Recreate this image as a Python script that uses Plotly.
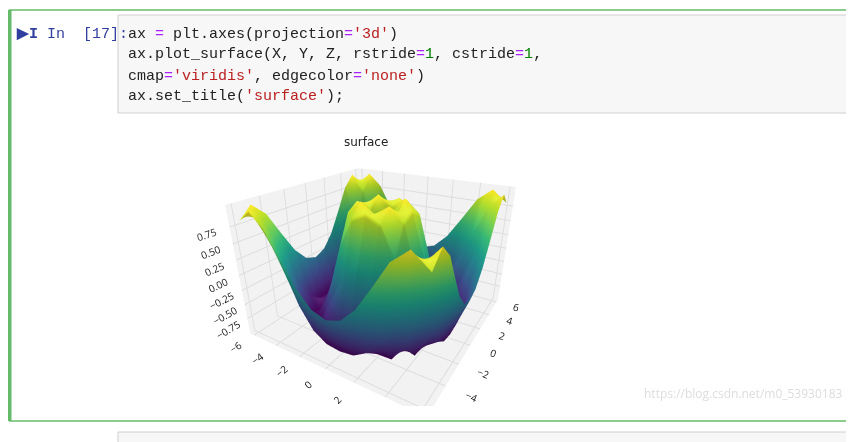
import numpy as np
import plotly.graph_objects as go

# grid coordinates and one quadrant of z values (|x|, |y| = 0..6)
coords = [-6, -5, -4, -3, -2, -1, 0, 1, 2, 3, 4, 5, 6]
quadrant = [
    [0.00, 0.84, 0.91, 0.14, -0.76, -0.96, -0.28],
    [0.84, 0.99, 0.79, -0.02, -0.83, -0.93, -0.20],
    [0.91, 0.79, 0.31, -0.45, -0.97, -0.78, 0.04],
    [0.14, -0.02, -0.45, -0.89, -0.96, -0.43, 0.41],
    [-0.76, -0.83, -0.97, -0.96, -0.59, 0.12, 0.80],
    [-0.96, -0.93, -0.78, -0.43, 0.12, 0.71, 1.00],
    [-0.28, -0.20, 0.04, 0.41, 0.80, 1.00, 0.81],
]
xy_ticks = [-6, -4, -2, 0, 2, 4, 6]
z_ticks = [-0.75, -0.50, -0.25, 0.00, 0.25, 0.50, 0.75]

q = np.array(quadrant)
idx = [abs(c) for c in coords]
Z = q[np.ix_(idx, idx)]

fig = go.Figure(go.Surface(x=coords, y=coords, z=Z, colorscale='Viridis',
                           showscale=False))

ax = dict(backgroundcolor='#f2f2f2', gridcolor='#dddddd', showbackground=True,
          title='', tickfont=dict(size=11, color='#222'), zeroline=False)
fig.update_layout(
    width=854, height=442, margin=dict(l=0, r=0, t=0, b=0),
    paper_bgcolor='white', showlegend=False,
    scene=dict(
        domain=dict(x=[0.17, 0.71], y=[0.1, 0.76]),
        xaxis=dict(ax, tickvals=xy_ticks),
        yaxis=dict(ax, tickvals=xy_ticks),
        zaxis=dict(ax, tickvals=z_ticks, tickformat='.2f'),
        aspectmode='manual', aspectratio=dict(x=1.1, y=1.1, z=0.75),
        camera=dict(eye=dict(x=0.95, y=-1.55, z=0.85)),
    ),
)

# notebook cell decoration (offset to compensate page margin)
def px(x):
    return (x - 8) / 854

def py(y):
    return 1 - (y - 8) / 442

fig.add_shape(type='line', xref='paper', yref='paper', x0=px(9), x1=px(9), y0=py(421), y1=py(10),
              line=dict(color='#66bb6a', width=5))
fig.add_shape(type='line', xref='paper', yref='paper', x0=px(9), x1=1, y0=py(10), y1=py(10),
              line=dict(color='#66bb6a', width=1.5))
fig.add_shape(type='line', xref='paper', yref='paper', x0=px(9), x1=1, y0=py(421), y1=py(421),
              line=dict(color='#66bb6a', width=1.5))
fig.add_shape(type='rect', xref='paper', yref='paper', x0=px(118), x1=px(851), y0=py(113), y1=py(15),
              fillcolor='#f7f7f7', line=dict(color='#cfcfcf', width=1))
fig.add_shape(type='rect', xref='paper', yref='paper', x0=px(118), x1=px(851), y0=-0.05, y1=py(432),
              fillcolor='#f7f7f7', line=dict(color='#cfcfcf', width=1))

P = '<span style="color:#aa22ff">%s</span>'
S = '<span style="color:#ba2121">%s</span>'
N = '<span style="color:#008000">%s</span>'
lines = [
    'ax ' + P % '=' + ' plt.axes(projection' + P % '=' + S % "'3d'" + ')',
    'ax.plot_surface(X, Y, Z, rstride' + P % '=' + N % '1' + ', cstride' + P % '=' + N % '1' + ',',
    'cmap' + P % '=' + S % "'viridis'" + ', edgecolor' + P % '=' + S % "'none'" + ')',
    'ax.set_title(' + S % "'surface'" + ');',
]
for i, t in enumerate(lines):
    fig.add_annotation(text=t, xref='paper', yref='paper', x=px(126), y=py(34 + 21 * i),
                       xanchor='left', yanchor='middle', showarrow=False,
                       font=dict(family='Liberation Mono', size=15, color='#222'))
fig.add_annotation(text='<b>▶I</b> In  [17]:', xref='paper', yref='paper', x=px(14), y=py(34),
                   xanchor='left', yanchor='middle', showarrow=False,
                   font=dict(family='Liberation Mono', size=15, color='#303f9f'))
fig.add_annotation(text='surface', xref='paper', yref='paper', x=px(366), y=py(133),
                   showarrow=False, font=dict(family='DejaVu Sans', size=12, color='#222'))
fig.add_annotation(text='https://blog.csdn.net/m0_53930183', xref='paper', yref='paper',
                   x=px(845), y=py(404), xanchor='right', showarrow=False,
                   font=dict(size=12, color='#dddddd'))

fig.write_html("out.html")
